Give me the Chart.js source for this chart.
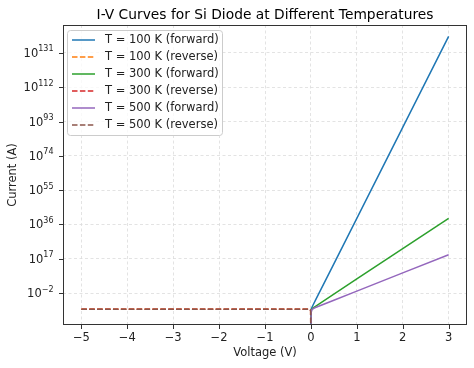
<!DOCTYPE html>
<html>
<head>
<meta charset="utf-8">
<script src="https://cdn.jsdelivr.net/npm/chart.js@4.4.1/dist/chart.umd.min.js"></script>
<style>
  html, body { margin: 0; padding: 0; background: #fff; }
</style>
</head>
<body>
<canvas id="ivChart" width="474" height="368"></canvas>
<script>
// data (currents in A; 1e-40 stands for ~0 A at V = 0)
const titleText = "I-V Curves for Si Diode at Different Temperatures";
const fwdVoltage = [0, 0.003, 0.01, 0.05, 0.1, 0.5, 1, 2, 3];
const fwd100 = [1e-40, 4.2e-12, 2.2e-11, 3.3e-9, 1.1e-6, 1.6e14, 2.5e39, 6.3e89, 1.6e140];
const fwd300 = [1e-40, 1.2e-12, 4.7e-12, 5.9e-11, 4.7e-10, 2.5e-3, 6.3e5, 4.0e22, 2.5e39];
const fwd500 = [1e-40, 7.2e-13, 2.6e-12, 2.2e-11, 9.2e-11, 1.1e-6, 0.12, 1.4e9, 1.7e19];
const revVoltage = [-5, -0.02, -0.005, 0];
const rev100 = [1e-11, 1e-11, 4.4e-12, 1e-40];
const rev300 = [1e-11, 1e-11, 1.8e-12, 1e-40];
const rev500 = [1e-11, 1e-11, 1.1e-12, 1e-40];

const seriesLabels = [
  "T = 100 K (forward)", "T = 100 K (reverse)",
  "T = 300 K (forward)", "T = 300 K (reverse)",
  "T = 500 K (forward)", "T = 500 K (reverse)"
];
const xTicks = [-5, -4, -3, -2, -1, 0, 1, 2, 3];
const yTickExp = [-2, 17, 36, 55, 74, 93, 112, 131];

const colors = ["#1f77b4", "#ff7f0e", "#2ca02c", "#d62728", "#9467bd", "#8c564b"];
const FONT = "'DejaVu Sans', sans-serif";

function pts(xs, ys) {
  return xs.map((x, i) => ({ x: x, y: ys[i] }));
}

const seriesData = [
  pts(fwdVoltage, fwd100), pts(revVoltage, rev100),
  pts(fwdVoltage, fwd300), pts(revVoltage, rev300),
  pts(fwdVoltage, fwd500), pts(revVoltage, rev500)
];

const datasets = seriesData.map((d, i) => ({
  label: seriesLabels[i],
  data: d,
  borderColor: colors[i],
  backgroundColor: colors[i],
  borderWidth: 1.5,
  borderDash: i % 2 === 1 ? [5.5, 2.4] : [],
  pointRadius: 0,
  fill: false,
  order: seriesData.length - i   // later series drawn on top, like matplotlib
}));

function minus(v) {
  return String(v).replace("-", "\u2212");
}

// frame, tick marks, y labels with exponents, title, legend
const decor = {
  id: "decor",
  afterDraw(chart) {
    const ctx = chart.ctx;
    const a = chart.chartArea;
    const xs = chart.scales.x, ys = chart.scales.y;
    ctx.save();
    ctx.strokeStyle = "#333";
    ctx.lineWidth = 1;
    ctx.strokeRect(a.left + 0.5, a.top + 0.5, a.right - a.left - 1, a.bottom - a.top - 1);

    ctx.beginPath();
    xTicks.forEach(v => {
      const px = Math.round(xs.getPixelForValue(v)) + 0.5;
      ctx.moveTo(px, a.bottom);
      ctx.lineTo(px, a.bottom + 4);
    });
    yTickExp.forEach(e => {
      const py = Math.round(ys.getPixelForValue(Math.pow(10, e))) + 0.5;
      ctx.moveTo(a.left, py);
      ctx.lineTo(a.left - 4, py);
    });
    ctx.stroke();

    // y labels: 10 with raised exponent
    ctx.fillStyle = "#222";
    ctx.textBaseline = "alphabetic";
    yTickExp.forEach(e => {
      const py = ys.getPixelForValue(Math.pow(10, e));
      const expStr = minus(e);
      ctx.font = "8px " + FONT;
      const ew = ctx.measureText(expStr).width;
      const right = a.left - 9.5;
      ctx.textAlign = "right";
      ctx.fillText(expStr, right, py - 1.5);
      ctx.font = "11.5px " + FONT;
      ctx.fillText("10", right - ew, py + 4);
    });

    // title
    ctx.font = "13.8px " + FONT;
    ctx.textAlign = "center";
    ctx.textBaseline = "alphabetic";
    ctx.fillStyle = "#000";
    ctx.fillText(titleText, (a.left + a.right) / 2, 18.5);

    // legend
    const lx = a.left + 4, ly = a.top + 5, lw = 155, lh = 105, rowH = 17;
    ctx.fillStyle = "rgba(255,255,255,0.8)";
    ctx.strokeStyle = "#cccccc";
    ctx.lineWidth = 1;
    ctx.beginPath();
    ctx.roundRect(lx + 0.5, ly + 0.5, lw, lh, 3);
    ctx.fill();
    ctx.stroke();
    ctx.font = "11.5px " + FONT;
    ctx.textAlign = "left";
    ctx.textBaseline = "middle";
    chart.data.datasets.forEach((ds, i) => {
      const y = ly + 10 + i * rowH;
      ctx.strokeStyle = ds.borderColor;
      ctx.lineWidth = 1.5;
      ctx.setLineDash(ds.borderDash);
      ctx.beginPath();
      ctx.moveTo(lx + 5, y);
      ctx.lineTo(lx + 28, y);
      ctx.stroke();
      ctx.setLineDash([]);
      ctx.fillStyle = "#222";
      ctx.fillText(ds.label, lx + 38, y);
    });
    ctx.restore();
  }
};

new Chart(document.getElementById("ivChart"), {
  type: "line",
  data: { datasets: datasets },
  plugins: [decor],
  options: {
    responsive: false,
    animation: false,
    layout: { padding: { top: 25, right: 7, left: 0, bottom: 0 } },
    plugins: {
      legend: { display: false },
      title: { display: false },
      tooltip: { enabled: false }
    },
    scales: {
      x: {
        type: "linear",
        min: -5.4,
        max: 3.4,
        bounds: "data",
        afterBuildTicks: s => { s.ticks = xTicks.map(v => ({ value: v })); },
        afterFit: s => { s.height = 43; },
        grid: { color: "#dcdcdc", lineWidth: 0.8, drawTicks: false },
        border: { display: false, dash: [3, 2.5] },
        ticks: {
          autoSkip: false,
          maxRotation: 0,
          padding: 6,
          color: "#222",
          font: { family: FONT, size: 11.5 },
          callback: v => minus(v)
        },
        title: {
          display: true,
          text: "Voltage (V)",
          color: "#222",
          font: { family: FONT, size: 11.5 },
          padding: { top: 0, bottom: 8 }
        }
      },
      y: {
        type: "logarithmic",
        min: 2e-20,
        max: 3e146,
        bounds: "data",
        afterBuildTicks: s => { s.ticks = yTickExp.map(e => ({ value: Math.pow(10, e) })); },
        afterFit: s => { s.width = 63; },
        grid: { color: "#dcdcdc", lineWidth: 0.8, drawTicks: false },
        border: { display: false, dash: [3, 2.5] },
        ticks: { display: false, autoSkip: false },
        title: {
          display: true,
          text: "Current (A)",
          color: "#222",
          font: { family: FONT, size: 11.5 },
          padding: { top: 6, bottom: 0 }
        }
      }
    }
  }
});
</script>
</body>
</html>
